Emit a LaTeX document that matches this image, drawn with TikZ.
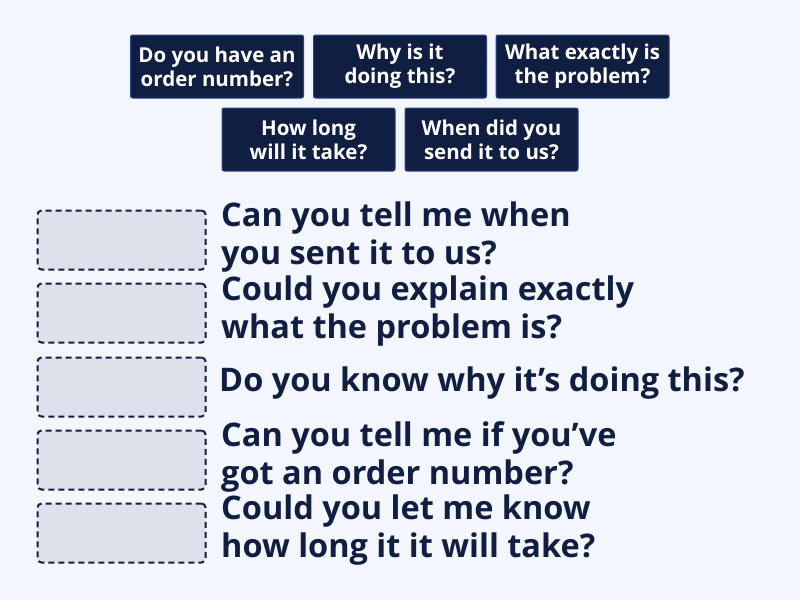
\documentclass[tikz,border=0pt]{standalone}
\usepackage{fontspec}
\setmainfont{Open Sans}
\definecolor{navy}{RGB}{16,30,66}
\definecolor{bg}{RGB}{243,246,252}
\definecolor{slotfill}{RGB}{222,225,236}
\definecolor{cardborder}{RGB}{40,70,140}
\newcommand{\apos}{\symbol{39}}
\begin{document}
\begin{tikzpicture}[x=1pt,y=-1pt,
  card/.style={draw=cardborder,line width=1pt,fill=navy,rounded corners=2pt,minimum width=173pt,minimum height=63pt,text=white,align=center,font=\fontsize{20.5}{24}\selectfont\bfseries,inner sep=0pt},
  slot/.style={draw=navy,dash pattern=on 6pt off 4pt,line width=2pt,fill=slotfill,rounded corners=4pt,minimum width=168pt,minimum height=59pt,inner sep=0pt},
  q/.style={anchor=west,align=left,text=navy,font=\fontsize{32.5}{38}\selectfont\bfseries,inner sep=0pt}]
\fill[bg] (0,0) rectangle (800,600);
\node[card] (c1) at (217,66.5) {Do you have an\\order number?};
\node[card] (c2) at (400,66.5) {Why is it\\doing this?};
\node[card] (c3) at (582.5,66.5) {What exactly is\\the problem?};
\node[card] (c4) at (308.5,139.5) {How long\\will it take?};
\node[card] (c5) at (491.5,139.5) {When did you\\send it to us?};
\node[slot] (s1) at (121.5,240) {};
\node[slot] (s2) at (121.5,313) {};
\node[slot] (s3) at (121.5,387) {};
\node[slot] (s4) at (121.5,460) {};
\node[slot] (s5) at (121.5,533) {};
\node[q] (t1) at (221,237) {Can you tell me when\\you sent it to us?};
\node[q] (t2) at (221,311) {Could you explain exactly\\what the problem is?};
\node[q] (t3) at (219,383) {Do you know why it\apos s doing this?};
\node[q] (t4) at (221,457) {Can you tell me if you\apos ve\\got an order number?};
\node[q] (t5) at (221,530) {Could you let me know\\how long it it will take?};
\end{tikzpicture}
\end{document}
